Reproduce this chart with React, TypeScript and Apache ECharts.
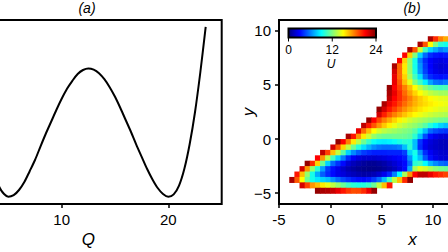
import React, { useEffect, useRef } from 'react';
import * as echarts from 'echarts';

// ---------- Panel (a): potential profile along Q ----------
const Q_VALUES = [3.5, 4.2, 4.6, 5.0, 5.5, 6.0, 6.5, 7.0, 7.5, 8.0, 8.5, 9.0, 9.5, 10.0, 10.5, 11.0, 11.5, 12.0, 12.5, 13.0, 13.5, 14.0, 14.5, 15.0, 15.5, 16.0, 16.5, 17.0, 17.5, 18.0, 18.5, 19.0, 19.5, 20.0, 20.5, 21.0, 21.5, 22.0, 22.5, 23.0, 23.5];
const CURVE_U = [9, 4.0, 2.5, 1.8, 2.2, 3.5, 5.5, 8.2, 11, 14.3, 17.5, 20.5, 23.5, 26.3, 28.8, 30.8, 32.5, 33.5, 33.9, 33.6, 32.7, 31.2, 29.2, 26.8, 24, 21, 18, 14.8, 11.8, 8.8, 6.2, 4, 2.5, 1.8, 2.4, 4.6, 8.8, 15, 23, 33, 44.3];
const Q_RANGE = { min: 0, max: 25 };
const Q_TICK_VALUES = [10, 20];

// ---------- Panel (b): U(x, y) map ----------
const CELL_X = [-4.75, -4.25, -3.75, -3.25, -2.75, -2.25, -1.75, -1.25, -0.75, -0.25, 0.25, 0.75, 1.25, 1.75, 2.25, 2.75, 3.25, 3.75, 4.25, 4.75, 5.25, 5.75, 6.25, 6.75, 7.25, 7.75, 8.25, 8.75, 9.25, 9.75, 10.25, 10.75, 11.25];
const CELL_Y = [10.75, 10.25, 9.75, 9.25, 8.75, 8.25, 7.75, 7.25, 6.75, 6.25, 5.75, 5.25, 4.75, 4.25, 3.75, 3.25, 2.75, 2.25, 1.75, 1.25, 0.75, 0.25, -0.25, -0.75, -1.25, -1.75, -2.25, -2.75, -3.25, -3.75, -4.25, -4.75, -5.25, -5.75];
const _ = null;
const U_GRID: (number | null)[][] = [
  [_,_,_,_,_,_,_,_,_,_,_,_,_,_,_,_,_,_,_,_,_,_,_,_,_,_,_,_,_,_,_,_,_],
  [_,_,_,_,_,_,_,_,_,_,_,_,_,_,_,_,_,_,_,_,_,_,_,_,_,_,_,_,_,_,_,_,_],
  [_,_,_,_,_,_,_,_,_,_,_,_,_,_,_,_,_,_,_,_,_,_,_,_,_,_,_,_,_,_,_,_,_],
  [_,_,_,_,_,_,_,_,_,_,_,_,_,_,_,_,_,_,_,_,_,_,_,_,_,_,_,_,_,23,20,18,17],
  [_,_,_,_,_,_,_,_,_,_,_,_,_,_,_,_,_,_,_,_,_,_,_,_,_,_,_,23,19,15,12,10,9.5],
  [_,_,_,_,_,_,_,_,_,_,_,_,_,_,_,_,_,_,_,_,_,_,_,_,_,23,19,14,10.5,8,7,6,6.5],
  [_,_,_,_,_,_,_,_,_,_,_,_,_,_,_,_,_,_,_,_,_,_,_,_,21,16,12,8,5.5,4,3.5,3.3,3.5],
  [_,_,_,_,_,_,_,_,_,_,_,_,_,_,_,_,_,_,_,_,_,_,_,21,16,12.5,9.5,6,4,3,2.5,2.3,2.5],
  [_,_,_,_,_,_,_,_,_,_,_,_,_,_,_,_,_,_,_,_,_,_,23,18.5,15.5,12.5,9.5,6.5,4.3,3,2.3,2,2.2],
  [_,_,_,_,_,_,_,_,_,_,_,_,_,_,_,_,_,_,_,_,_,_,22,18.5,15.5,12.5,9.7,6.7,4.5,3.2,2.5,2.2,2.4],
  [_,_,_,_,_,_,_,_,_,_,_,_,_,_,_,_,_,_,_,_,_,_,21.5,18.5,16,13,10.5,8.3,5.5,4,3.5,3.3,3.5],
  [_,_,_,_,_,_,_,_,_,_,_,_,_,_,_,_,_,_,_,_,_,_,21.5,19,16.5,14.5,12,10.5,8.7,6.8,5.7,5.4,5.8],
  [_,_,_,_,_,_,_,_,_,_,_,_,_,_,_,_,_,_,_,_,_,23.5,21,19.5,18,16.5,15,13.5,12.3,11.4,10.8,10.5,10.7],
  [_,_,_,_,_,_,_,_,_,_,_,_,_,_,_,_,_,_,_,_,_,23,21.5,20,18.5,17.2,16,15,14.2,13.5,13.1,12.8,12.8],
  [_,_,_,_,_,_,_,_,_,_,_,_,_,_,_,_,_,_,_,_,_,22.5,21,20,19,18,17,16.2,15.6,15.1,14.7,14.4,14.3],
  [_,_,_,_,_,_,_,_,_,_,_,_,_,_,_,_,_,_,_,_,23,21.5,20.5,19.5,18.5,17.6,16.8,16.2,15.8,15.4,15.1,14.8,14.6],
  [_,_,_,_,_,_,_,_,_,_,_,_,_,_,_,_,_,_,_,23.5,22,20.5,19.5,18.5,17.6,16.8,16.2,15.6,15.2,14.8,14.5,14.2,14.1],
  [_,_,_,_,_,_,_,_,_,_,_,_,_,_,_,_,_,_,_,22,20.3,19,18,17.2,16.4,15.7,15.1,14.6,14.2,13.8,13.5,13.3,13.1],
  [_,_,_,_,_,_,_,_,_,_,_,_,_,_,_,_,_,23.5,21,19.3,18,17,16,15.2,14.5,13.9,13.4,13,12.7,12.3,12,11.7,11.5],
  [_,_,_,_,_,_,_,_,_,_,_,_,_,_,_,_,22.5,20.5,19,17.5,16.3,15.3,14.5,13.8,13.3,12.8,12.4,11.8,11,9.8,8.8,8,7.5],
  [_,_,_,_,_,_,_,_,_,_,_,_,_,_,_,21.5,18.5,16.5,15,14,13.4,13,12.7,12.4,12.1,11.8,11,9.5,7.5,5.5,4.8,4.4,4.2],
  [_,_,_,_,_,_,_,_,_,_,_,_,_,23,20.5,17.5,15.5,13.8,12.5,11.8,11.5,11.5,11.6,11.6,11.5,11.2,10,7.5,4.8,3.2,2.5,2.1,2],
  [_,_,_,_,_,_,_,_,_,_,_,23.5,21,18,15.5,13.3,11.6,10.2,9.2,8.7,8.6,8.8,9.2,9.6,10,9.8,7.5,4.2,2.8,2.2,1.8,1.5,1.4],
  [_,_,_,_,_,_,_,_,_,_,22,19,16,13.5,11.5,9.8,8.3,7.2,6.3,5.8,5.6,5.6,5.7,6,7.5,10,7.5,4,2.6,2,1.7,1.5,1.4],
  [_,_,_,_,_,_,_,_,22.5,19.5,16.5,13.5,11,8,6.3,5.2,4.4,4,3.7,3.7,3.7,3.8,3.8,3.8,4.5,8,9.5,6.5,4,2.8,2.2,1.9,1.8],
  [_,_,_,_,_,_,_,21,17.5,13.5,10.5,8,6,4,2.8,2.2,1.9,1.9,1.8,2,2.2,2.5,2.8,3.1,3.6,6.5,9,7.5,5,3.3,2.5,2.1,2],
  [_,_,_,_,_,23.5,20,16,11.5,8,5.5,4.2,3.2,2,1.4,1,0.7,0.5,0.5,0.7,1,1.5,2,2.5,3.2,5.5,10,10.5,9,7.3,6.3,5.6,5.3],
  [_,_,_,_,22,17.5,12.5,10,6.8,4.4,3.3,2.5,1.8,1.2,0.8,0.5,0.3,0.2,0.2,0.3,0.6,1,1.5,2.2,3.2,7,13,14.5,14,13,12.3,11.8,11.5],
  [_,_,_,20.5,16.5,12.5,9.5,7,5.2,4,3.2,2.5,2.2,1.7,1.4,1.1,0.9,1,1.3,1.8,2.6,3.8,6,9,13,17.5,21,22.5,22.5,21.5,20.5,20,19.5],
  [_,_,23,19,15,11.5,9.5,8.5,8,7.5,6.5,5.5,4.7,4.1,3.6,3.3,3.2,3.5,4.3,5.5,7.5,10.5,13.5,16.5,20,23.5,_,_,_,_,_,_,_],
  [_,_,_,_,22,19.5,17.5,16.5,15.5,14.5,13.5,12.5,11.5,10.5,10,9.7,9.8,10.3,11.5,13.5,16.5,20.5,_,_,_,_,_,_,_,_,_,_,_],
  [_,_,_,_,_,_,_,23.5,23,22.8,22.3,21.5,20.5,19.7,19.2,19.3,20,21.5,23.5,_,_,_,_,_,_,_,_,_,_,_,_,_,_],
  [_,_,_,_,_,_,_,_,_,_,_,_,_,_,_,_,_,_,_,_,_,_,_,_,_,_,_,_,_,_,_,_,_],
  [_,_,_,_,_,_,_,_,_,_,_,_,_,_,_,_,_,_,_,_,_,_,_,_,_,_,_,_,_,_,_,_,_],
];
const CELL_HALF = 0.25;
const X_RANGE = { min: -5, max: 21 };
const X_TICK_VALUES = [-5, 0, 5, 10];
const Y_RANGE = { min: -6, max: 11 };
const Y_TICK_VALUES = [-5, 0, 5, 10];
const COLORBAR_TICKS = [0, 12, 24];
const U_RANGE = { min: 0, max: 24 };
const JET = ['#00007f', '#0000ff', '#007fff', '#00ffff', '#7fff7f', '#ffff00', '#ff7f00', '#ff0000', '#7f0000'];

const FONT = '"Liberation Sans", Arial, Helvetica, sans-serif';

export default function App() {
  const ref = useRef<HTMLDivElement>(null);

  useEffect(() => {
    if (!ref.current) return;
    const chart = echarts.init(ref.current, null, { renderer: 'svg' });

    const curve = Q_VALUES.map((q, i) => [q, CURVE_U[i]]);
    const cells: number[][] = [];
    U_GRID.forEach((row, r) => {
      row.forEach((v, c) => {
        if (v !== null && v !== undefined) cells.push([CELL_X[c], CELL_Y[r], v]);
      });
    });

    const tick = (vals: number[]) => ({
      show: true, inside: false, length: 4, customValues: vals, lineStyle: { color: '#000', width: 1.5 },
    });
    const hiddenLine = { show: false, onZero: false };
    const labelStyle = { color: '#000', fontSize: 15, fontFamily: FONT, margin: 8 };
    const nameStyle = { color: '#000', fontSize: 17, fontStyle: 'italic', fontFamily: FONT };

    // colorbar geometry (pixels)
    const cbX = 288.5, cbY = 28.5, cbW = 87.5, cbH = 9;
    const stops = JET.map((c, i) => ({ offset: i / (JET.length - 1), color: c }));
    const cbGraphics: any[] = [
      {
        type: 'rect',
        shape: { x: cbX, y: cbY, width: cbW, height: cbH },
        style: { fill: new echarts.graphic.LinearGradient(0, 0, 1, 0, stops), stroke: '#000', lineWidth: 2 },
        z: 100,
      },
    ];
    COLORBAR_TICKS.forEach((t) => {
      const px = cbX + ((t - U_RANGE.min) / (U_RANGE.max - U_RANGE.min)) * cbW;
      cbGraphics.push({
        type: 'line',
        shape: { x1: px, y1: cbY + cbH, x2: px, y2: cbY + cbH + 4 },
        style: { stroke: '#000', lineWidth: 1 },
        z: 100,
      });
      cbGraphics.push({
        type: 'text',
        x: px,
        y: 50,
        style: { text: String(t), fill: '#000', font: `12px ${FONT}`, textAlign: 'center', textVerticalAlign: 'middle' },
        z: 100,
      });
    });
    cbGraphics.push({
      type: 'text',
      x: 331,
      y: 63.5,
      style: { text: 'U', fill: '#000', font: `italic 12px ${FONT}`, textAlign: 'center', textVerticalAlign: 'middle' },
      z: 101,
    });

    const gridBase = {
      top: 20, height: 184, show: true, borderColor: '#000', borderWidth: 2,
      backgroundColor: 'transparent', containLabel: false, outerBoundsMode: 'none',
    };

    const option: any = {
      animation: false,
      backgroundColor: '#fff',
      grid: [
        { ...gridBase, left: -45, width: 266.7 },
        { ...gridBase, left: 279, width: 266.8 },
      ],
      xAxis: [
        {
          type: 'value', gridIndex: 0, min: Q_RANGE.min, max: Q_RANGE.max, position: 'bottom',
          name: 'Q', nameLocation: 'middle', nameGap: 27, nameMoveOverlap: false, nameTextStyle: nameStyle,
          axisLine: hiddenLine, axisTick: tick(Q_TICK_VALUES),
          axisLabel: { ...labelStyle, customValues: Q_TICK_VALUES },
          splitLine: { show: false },
        },
        {
          type: 'value', gridIndex: 1, min: X_RANGE.min, max: X_RANGE.max, position: 'bottom',
          name: 'x', nameLocation: 'middle', nameGap: 27, nameMoveOverlap: false, nameTextStyle: nameStyle,
          axisLine: hiddenLine, axisTick: tick(X_TICK_VALUES),
          axisLabel: { ...labelStyle, customValues: X_TICK_VALUES },
          splitLine: { show: false },
        },
      ],
      yAxis: [
        {
          type: 'value', gridIndex: 0, min: 0, max: 46,
          axisLine: hiddenLine, axisTick: { show: false }, axisLabel: { show: false },
          splitLine: { show: false },
        },
        {
          type: 'value', gridIndex: 1, min: Y_RANGE.min, max: Y_RANGE.max, position: 'left',
          name: 'y', nameLocation: 'middle', nameGap: 22, nameMoveOverlap: false, nameTextStyle: nameStyle,
          axisLine: hiddenLine,
          axisTick: tick(Y_TICK_VALUES),
          axisLabel: {
            ...labelStyle, customValues: Y_TICK_VALUES,
            formatter: (v: number) => (v < 0 ? '\u2212' + Math.abs(v) : String(v)),
          },
          splitLine: { show: false },
        },
      ],
      visualMap: {
        type: 'continuous', show: false, min: U_RANGE.min, max: U_RANGE.max, dimension: 2, seriesIndex: 1,
        inRange: { color: JET },
      },
      series: [
        {
          type: 'line', xAxisIndex: 0, yAxisIndex: 0, data: curve, smooth: 0.3, showSymbol: false,
          lineStyle: { color: '#000', width: 2 }, clip: true,
        },
        {
          type: 'custom', xAxisIndex: 1, yAxisIndex: 1, data: cells, encode: { x: 0, y: 1 }, clip: true,
          renderItem: (params: any, api: any) => {
            const x = api.value(0), y = api.value(1);
            const p0 = api.coord([x - CELL_HALF, y + CELL_HALF]);
            const p1 = api.coord([x + CELL_HALF, y - CELL_HALF]);
            return {
              type: 'rect',
              shape: { x: p0[0], y: p0[1], width: p1[0] - p0[0] + 0.6, height: p1[1] - p0[1] + 0.6 },
              style: { fill: api.visual('color') },
            };
          },
        },
      ],
      graphic: [
        {
          type: 'text', x: 87, y: 8,
          style: { text: '(a)', fill: '#000', font: `italic 14px ${FONT}`, textAlign: 'center', textVerticalAlign: 'middle' },
        },
        {
          type: 'text', x: 412, y: 8,
          style: { text: '(b)', fill: '#000', font: `italic 14px ${FONT}`, textAlign: 'center', textVerticalAlign: 'middle' },
        },
        ...cbGraphics,
      ],
    };

    chart.setOption(option);
    return () => chart.dispose();
  }, []);

  return (
    <div
      ref={ref}
      style={{ position: 'fixed', left: 0, top: 0, width: 448, height: 252, background: '#fff' }}
    />
  );
}
